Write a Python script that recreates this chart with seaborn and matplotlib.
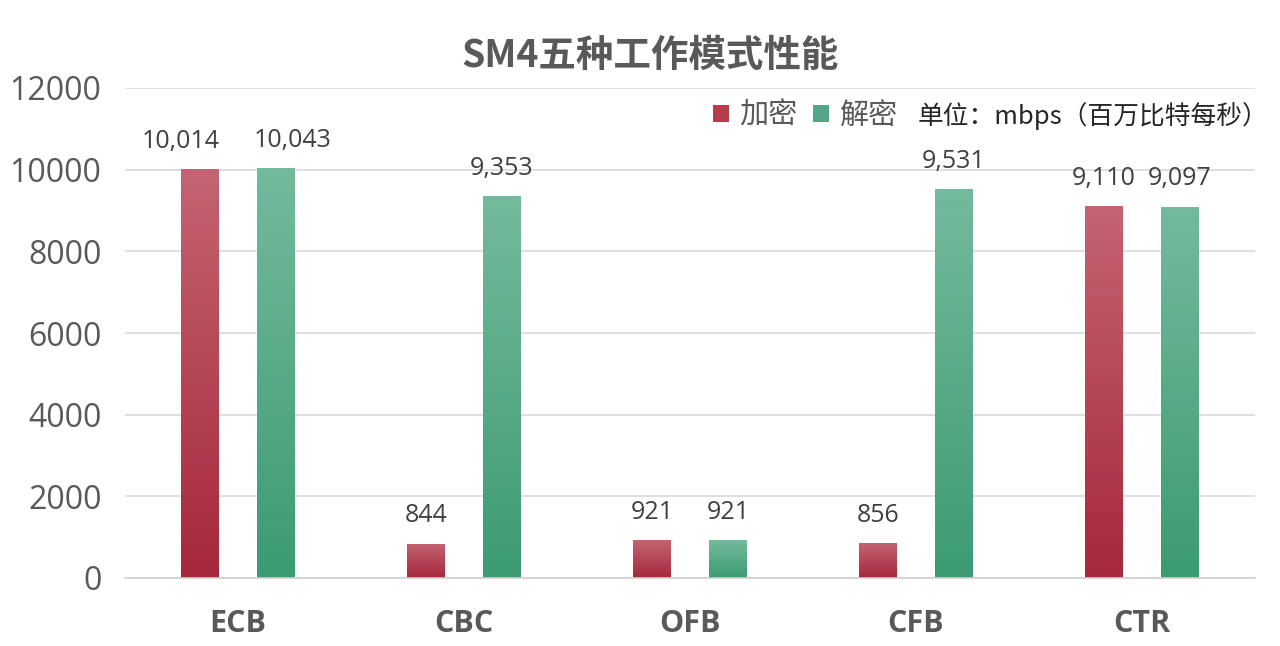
import numpy as np
import pandas as pd
import matplotlib
matplotlib.use("Agg")
import matplotlib.pyplot as plt
import seaborn as sns
from matplotlib.colors import LinearSegmentedColormap
from matplotlib.patches import Patch

modes = ["ECB", "CBC", "OFB", "CFB", "CTR"]
encrypt = [10014, 844, 921, 856, 9110]
decrypt = [10043, 9353, 921, 9531, 9097]
series = ["加密", "解密"]
yticks = [0, 2000, 4000, 6000, 8000, 10000, 12000]
title = "SM4五种工作模式性能"
unit_text = "单位：mbps（百万比特每秒）"

df = pd.DataFrame({
    "mode": modes * 2,
    "series": [series[0]] * len(modes) + [series[1]] * len(modes),
    "value": encrypt + decrypt,
})

sns.set_theme(style="white")
plt.rcParams["font.family"] = ["Noto Sans CJK SC", "DejaVu Sans"]

red_top, red_bot = "#c46472", "#a6283c"
grn_top, grn_bot = "#74ba9c", "#3c9b72"

fig = plt.figure(figsize=(12.8, 6.46), dpi=100)
ax = fig.add_axes([125 / 1280, 1 - 578 / 646, 1130 / 1280, 490 / 646])

sns.barplot(data=df, x="mode", y="value", hue="series", order=modes,
            hue_order=series, palette=[red_bot, grn_bot], width=0.672,
            gap=0.5, ax=ax, legend=False, saturation=1)

ax.set_ylim(0, 12000)
ax.set_yticks(yticks)
ax.set_yticklabels([str(t) for t in yticks], fontsize=23, color="#595959",
                   family=["Open Sans", "DejaVu Sans"])
ax.set_xlim(-0.5, 4.5)
ax.set_xlabel("")
ax.set_ylabel("")
for lbl in ax.get_xticklabels():
    lbl.set_fontsize(22)
    lbl.set_fontweight("bold")
    lbl.set_color("#595959")
    lbl.set_family(["Open Sans", "DejaVu Sans"])
ax.tick_params(axis="both", length=0)
ax.tick_params(axis="y", pad=17)
ax.tick_params(axis="x", pad=22)
ax.yaxis.grid(True, color="#d9d9d9", linewidth=1.2)
ax.set_axisbelow(True)
for s in ["top", "right", "left"]:
    ax.spines[s].set_visible(False)
ax.spines["bottom"].set_color("#d0d0d0")
ax.spines["bottom"].set_linewidth(1.2)

grad = np.linspace(0, 1, 256).reshape(-1, 1)
cmaps = [LinearSegmentedColormap.from_list("r", [red_bot, red_top]),
         LinearSegmentedColormap.from_list("g", [grn_bot, grn_top])]

label_pad = 11
label_shift_pts = [-13.7, 12.2]  # ECB labels are nudged apart in the reference
for k, (container, cmap) in enumerate(zip(ax.containers, cmaps)):
    for bar in container:
        x0, w, h = bar.get_x(), bar.get_width(), bar.get_height()
        im = ax.imshow(grad, cmap=cmap, origin="lower", aspect="auto",
                       extent=[x0, x0 + w, 0, h], zorder=bar.get_zorder() + 0.1)
        im.set_clip_path(bar)
        bar.set_edgecolor("none")
    labels = [f"{v:,.0f}" for v in container.datavalues]
    texts = ax.bar_label(container, labels=labels, padding=label_pad, fontsize=18,
                         color="#404040", family=["Open Sans", "DejaVu Sans"])
    texts[0].xyann = (label_shift_pts[k], label_pad)

ax.set_xlim(-0.5, 4.5)
ax.set_ylim(0, 12000)

fig.text(650 / 1280, 1 - 55 / 646, title, ha="center", va="center", fontsize=27,
         fontweight="bold", color="#595959")

handles = [Patch(facecolor="#b63c4e", edgecolor="none"),
           Patch(facecolor="#52a884", edgecolor="none")]
leg = fig.legend(handles, series, loc="center right",
                 bbox_to_anchor=(897 / 1280, 1 - 116 / 646), ncol=2, frameon=False,
                 fontsize=21, handlelength=0.55, handleheight=0.55,
                 handletextpad=0.35, columnspacing=0.5, borderaxespad=0,
                 borderpad=0)
for t in leg.get_texts():
    t.set_color("#595959")
fig.text(1268 / 1280, 1 - 116 / 646, unit_text, ha="right", va="center",
         fontsize=18.5, color="#262626", fontweight="medium")

fig.savefig("out.png", dpi=100, facecolor="white")
